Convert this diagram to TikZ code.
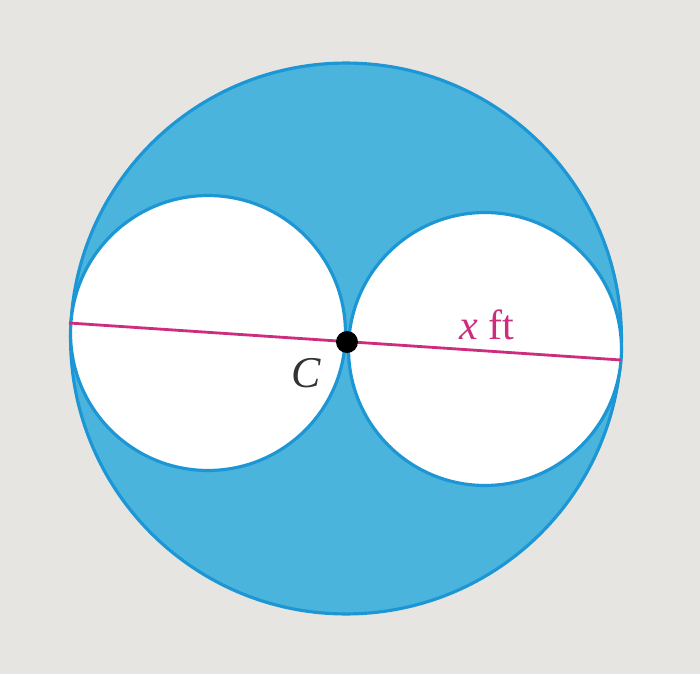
\documentclass[tikz,border=0pt]{standalone}
\usepackage{fontspec}
\setmainfont{Liberation Serif}
\usetikzlibrary{positioning}
\definecolor{pool}{RGB}{74,180,220}
\definecolor{rim}{RGB}{28,150,212}
\definecolor{rod}{RGB}{205,45,125}
\definecolor{paper}{RGB}{231,229,225}
\tikzstyle{ring} = [draw=rim, line width=1.8pt]
\tikzstyle{hole} = [ring, fill=white]
\tikzstyle{tag} = [inner sep=0pt]

\begin{document}
\begin{tikzpicture}[x=0.02cm, y=0.02cm]
      \fill[paper] (0,0) rectangle (700,674);
      \useasboundingbox (0,0) rectangle (700,674);
      \coordinate (O) at (346,335.5);
      \coordinate (C) at (347,332);
      \coordinate (Lc) at (208,341);
      \coordinate (Rc) at (485,325);
      \coordinate (W) at (69,351);
      \coordinate (E) at (621,314);

      % outer disc and the two holes
      \draw[ring, fill=pool] (O) circle (5.51cm);
      \draw[hole] (Lc) circle (2.75cm);
      \draw[hole] (Rc) circle (2.73cm);

      \draw[rod, line width=1.6pt] (W) -- (E);
      \node[circle, fill=black, inner sep=0pt, minimum size=0.44cm] (dot) at (C) {};
      \node[tag, text=rod, font=\fontsize{24}{28}\selectfont] (xft) at (487,349) {\textit{x} ft};
      \node[tag, text=black!80, font=\fontsize{25}{28}\selectfont] (clabel) at (306,301) {\textit{C}};
    \end{tikzpicture}
\end{document}
